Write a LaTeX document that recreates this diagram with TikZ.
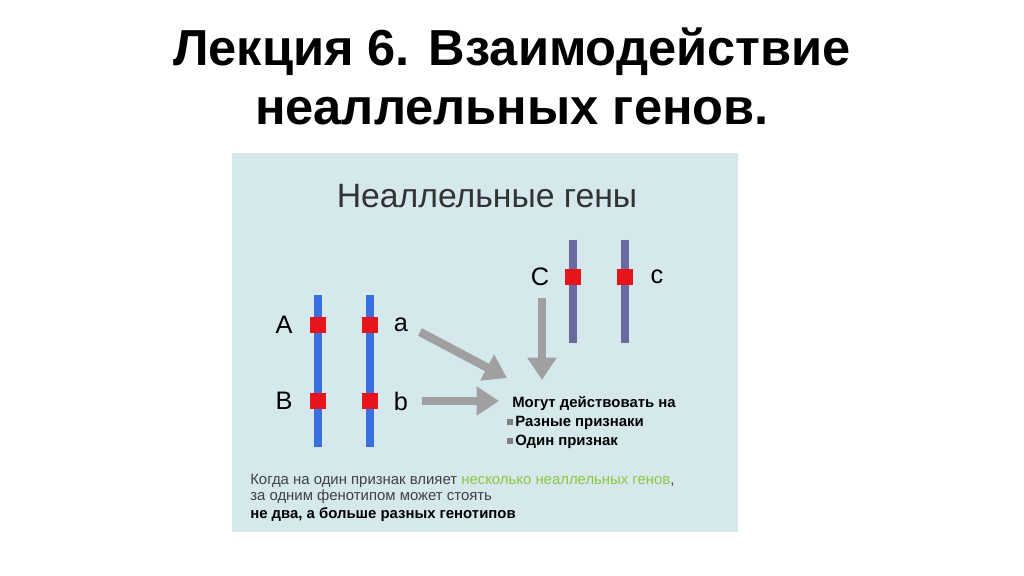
\documentclass[tikz,border=0pt]{standalone}
\usepackage{fontspec}
\setmainfont{Liberation Sans}
\usetikzlibrary{arrows.meta}
\definecolor{panelbg}{HTML}{D5E9EC}
\definecolor{chromblue}{HTML}{3A6FE0}
\definecolor{chrompurple}{HTML}{6A6A9E}
\definecolor{genered}{HTML}{E8141C}
\definecolor{arrowgray}{HTML}{A0A0A0}
\definecolor{greentext}{HTML}{8CC63F}
\newcommand{\bulletsq}{\textcolor{gray}{\raisebox{0.25ex}{\rule{4pt}{4pt}}}\,}
\begin{document}
\begin{tikzpicture}[x=0.025cm,y=-0.025cm,
    chrom/.style={line width=5pt},
    gene/.style={fill=genered,minimum size=11pt,inner sep=0pt},
    letter/.style={font=\fontsize{18}{20}\selectfont},
    bigarrow/.style={arrowgray,line width=6pt,-{Triangle[length=16pt,width=20pt]}},
    small/.style={font=\fontsize{10.6}{12}\selectfont,anchor=west,inner sep=0pt},
    smallbold/.style={small,font=\fontsize{10.6}{12}\selectfont\bfseries}]
\useasboundingbox (0,0) rectangle (1024,576);
\node (title) at (512,76) [align=center,font=\fontsize{36}{42}\selectfont\bfseries]
  {Лекция 6. Взаимодействие\\неаллельных генов.};
\fill[panelbg] (232,153) rectangle (738,532);
\node (ptitle) at (487,196) [font=\fontsize{24}{28}\selectfont,text=black!80] {Неаллельные гены};
% chromosomes
\draw[chrom,chromblue] (318,295) -- (318,447);
\draw[chrom,chromblue] (370,295) -- (370,447);
\draw[chrom,chrompurple] (573,240) -- (573,343);
\draw[chrom,chrompurple] (625,240) -- (625,343);
\node[gene] (gA) at (318,325) {};
\node[gene] (ga) at (370,325) {};
\node[gene] (gB) at (318,401) {};
\node[gene] (gb) at (370,401) {};
\node[gene] (gC) at (573,277) {};
\node[gene] (gc) at (625,277) {};
\node[letter] (A) at (284,325) {A};
\node[letter] (a) at (401,325) {a};
\node[letter] (B) at (284,401) {B};
\node[letter] (b) at (401,401) {b};
\node[letter] (C) at (540,277) {C};
\node[letter] (c) at (657,277) {c};
% arrows
\coordinate (tipa) at (507,378);
\coordinate (tipb) at (499,401);
\coordinate (tipc) at (542,380);
\draw[bigarrow] (420,332) -- (tipa);
\draw[bigarrow] (422,401) -- (tipb);
\draw[bigarrow] (542,298) -- (tipc);
% text
\node[smallbold] (may) at (512,403) {Могут действовать на};
\node[smallbold] (diff) at (507,423) {\bulletsq Разные признаки};
\node[smallbold] (one) at (507,442) {\bulletsq Один признак};
\node[small,text=black!75] (l1) at (250,481) {Когда на один признак влияет \textcolor{greentext}{несколько неаллельных генов},};
\node[small,text=black!75] (l2) at (250,497) {за одним фенотипом может стоять};
\node[smallbold] (l3) at (250,515) {не два, а больше разных генотипов};
\end{tikzpicture}
\end{document}
